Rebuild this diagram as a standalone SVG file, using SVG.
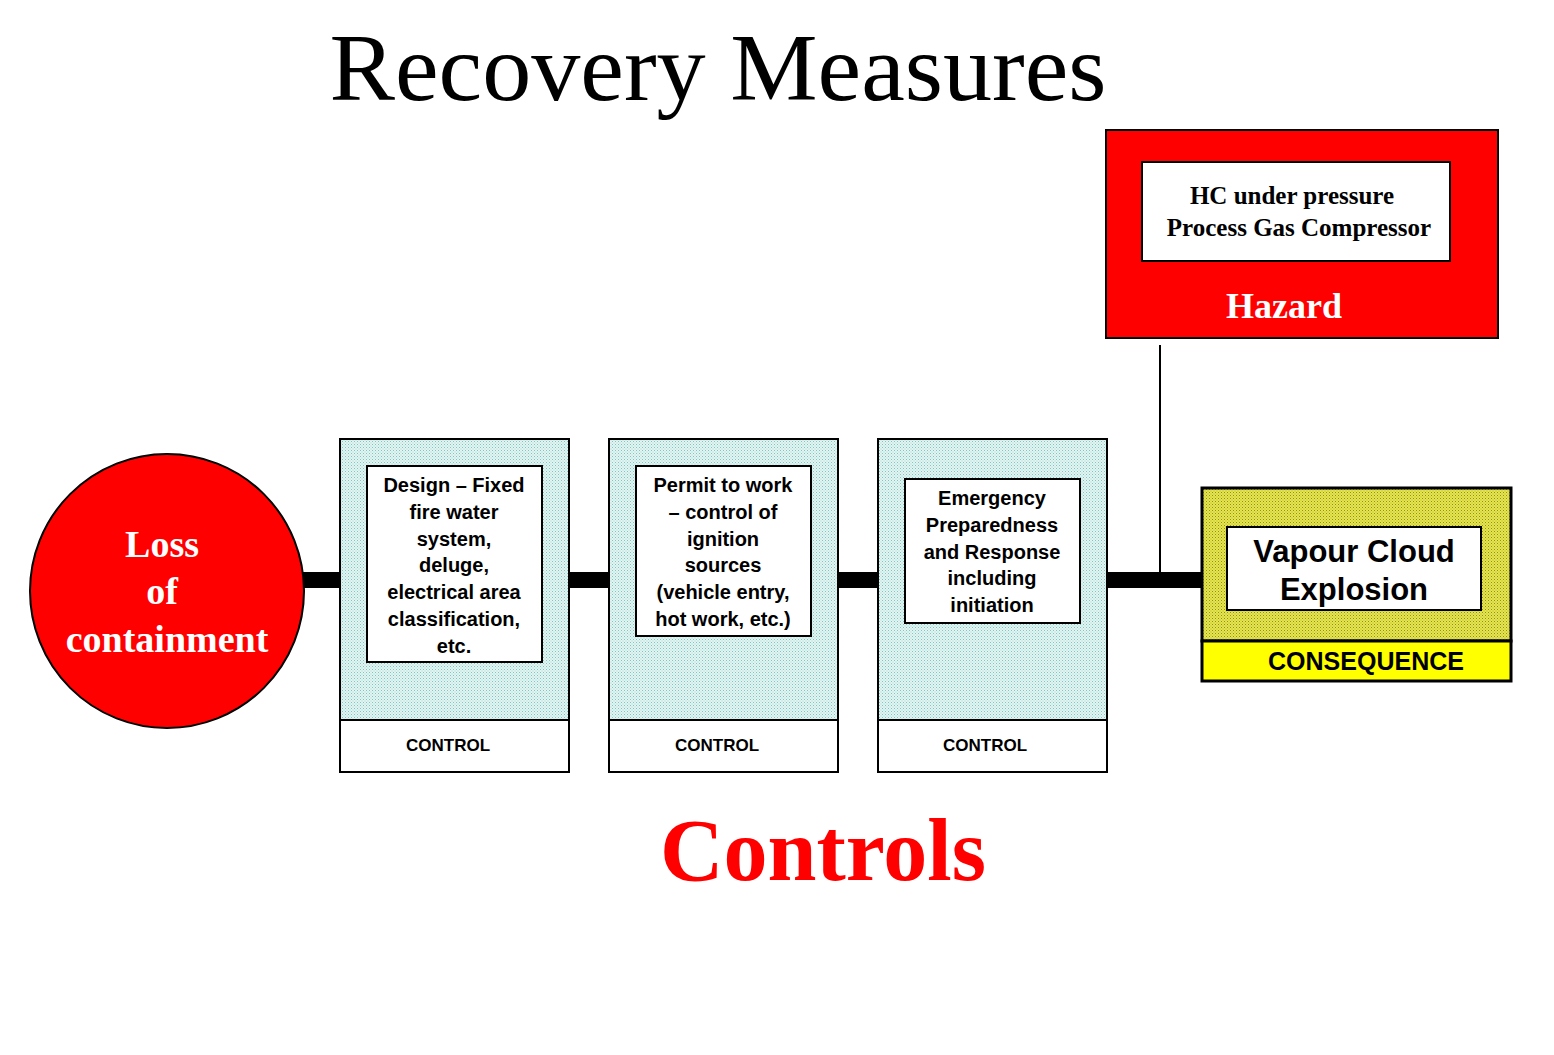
<svg xmlns="http://www.w3.org/2000/svg" width="1554" height="1055" viewBox="0 0 1554 1055">
<defs>
<pattern id="cy" width="3" height="3" patternUnits="userSpaceOnUse"><rect width="3" height="3" fill="#e4f4f2"/><rect width="1" height="1" fill="#7cc8c0"/><rect x="1.5" y="1.5" width="1" height="1" fill="#9ad6d0"/></pattern>
<pattern id="ye" width="3" height="3" patternUnits="userSpaceOnUse"><rect width="3" height="3" fill="#e6e64a"/><rect width="1" height="1" fill="#8f8f30"/><rect x="1.5" y="1.5" width="1" height="1" fill="#b0b038"/></pattern>
<pattern id="gr" width="4" height="4" patternUnits="userSpaceOnUse"><rect width="4" height="4" fill="#bfe8e0"/><path d="M0 0H4M0 0V4" stroke="#000" stroke-width="1.2"/></pattern>
</defs>
<style>
.b{stroke:#000;stroke-width:2}
.t{font-family:"Liberation Sans",Arial,sans-serif;font-weight:bold;text-anchor:middle}
.s{font-family:"Liberation Serif","Times New Roman",serif;font-weight:bold;text-anchor:middle}
</style>
<rect width="1554" height="1055" fill="#fff"/>
<text x="718" y="100" font-family="Liberation Serif,serif" font-size="96" text-anchor="middle" textLength="777" lengthAdjust="spacingAndGlyphs">Recovery Measures</text>
<g id="connectors">
<rect x="303" y="572" width="915" height="16" fill="#000"/>
<rect x="340" y="572" width="27" height="16" fill="url(#gr)"/>
<rect x="542" y="572" width="27" height="16" fill="url(#gr)"/>
<rect x="609" y="572" width="27" height="16" fill="url(#gr)"/>
<rect x="811" y="572" width="27" height="16" fill="url(#gr)"/>
<rect x="878" y="572" width="27" height="16" fill="url(#gr)"/>
<rect x="1080" y="572" width="27" height="16" fill="url(#gr)"/>
<rect x="1203" y="572" width="24" height="16" fill="url(#gr)"/>
<line x1="1160" y1="345" x2="1160" y2="574" stroke="#000" stroke-width="2"/>
</g>
<g id="loss">
<circle cx="167" cy="591" r="137" fill="#f00" class="b"/>
<text class="s" font-size="38" fill="#fff"><tspan x="162" y="557">Loss</tspan><tspan x="162" y="604">of</tspan><tspan x="167" y="652">containment</tspan></text>
</g>
<g id="control1">
<rect x="340" y="439" width="229" height="281" fill="url(#cy)" class="b"/>
<rect x="340" y="720" width="229" height="52" fill="#fff" class="b"/>
<text x="448" y="751" class="t" font-size="17">CONTROL</text>
<rect x="367" y="466" width="175" height="196" fill="#fff" class="b"/>
<text class="t" font-size="20"><tspan x="454" y="492">Design – Fixed</tspan><tspan x="454" y="519">fire water</tspan><tspan x="454" y="546">system,</tspan><tspan x="454" y="572">deluge,</tspan><tspan x="454" y="599">electrical area</tspan><tspan x="454" y="626">classification,</tspan><tspan x="454" y="653">etc.</tspan></text>
</g>
<g id="control2">
<rect x="609" y="439" width="229" height="281" fill="url(#cy)" class="b"/>
<rect x="609" y="720" width="229" height="52" fill="#fff" class="b"/>
<text x="717" y="751" class="t" font-size="17">CONTROL</text>
<rect x="636" y="466" width="175" height="170" fill="#fff" class="b"/>
<text class="t" font-size="20"><tspan x="723" y="492">Permit to work</tspan><tspan x="723" y="519">– control of</tspan><tspan x="723" y="546">ignition</tspan><tspan x="723" y="572">sources</tspan><tspan x="723" y="599">(vehicle entry,</tspan><tspan x="723" y="626">hot work, etc.)</tspan></text>
</g>
<g id="control3">
<rect x="878" y="439" width="229" height="281" fill="url(#cy)" class="b"/>
<rect x="878" y="720" width="229" height="52" fill="#fff" class="b"/>
<text x="985" y="751" class="t" font-size="17">CONTROL</text>
<rect x="905" y="479" width="175" height="144" fill="#fff" class="b"/>
<text class="t" font-size="20"><tspan x="992" y="505">Emergency</tspan><tspan x="992" y="532">Preparedness</tspan><tspan x="992" y="559">and Response</tspan><tspan x="992" y="585">including</tspan><tspan x="992" y="612">initiation</tspan></text>
</g>
<g id="hazard">
<rect x="1106" y="130" width="392" height="208" fill="#f00" class="b"/>
<rect x="1142" y="162" width="308" height="99" fill="#fff" class="b"/>
<text class="s" font-size="25"><tspan x="1292" y="204">HC under pressure</tspan><tspan x="1299" y="236">Process Gas Compressor</tspan></text>
<text x="1284" y="318" class="s" font-size="36" fill="#fff">Hazard</text>
</g>
<g id="consequence">
<rect x="1202" y="488" width="309" height="153" fill="url(#ye)" stroke="#000" stroke-width="3"/>
<rect x="1202" y="641" width="309" height="40" fill="#ff0" stroke="#000" stroke-width="3"/>
<rect x="1227" y="527" width="254" height="83" fill="#fff" class="b"/>
<text class="t" font-size="31"><tspan x="1354" y="562">Vapour Cloud</tspan><tspan x="1354" y="600">Explosion</tspan></text>
<text x="1366" y="670" class="t" font-size="25">CONSEQUENCE</text>
</g>
<text x="823" y="880" class="s" font-size="88" fill="#f00">Controls</text>
</svg>
